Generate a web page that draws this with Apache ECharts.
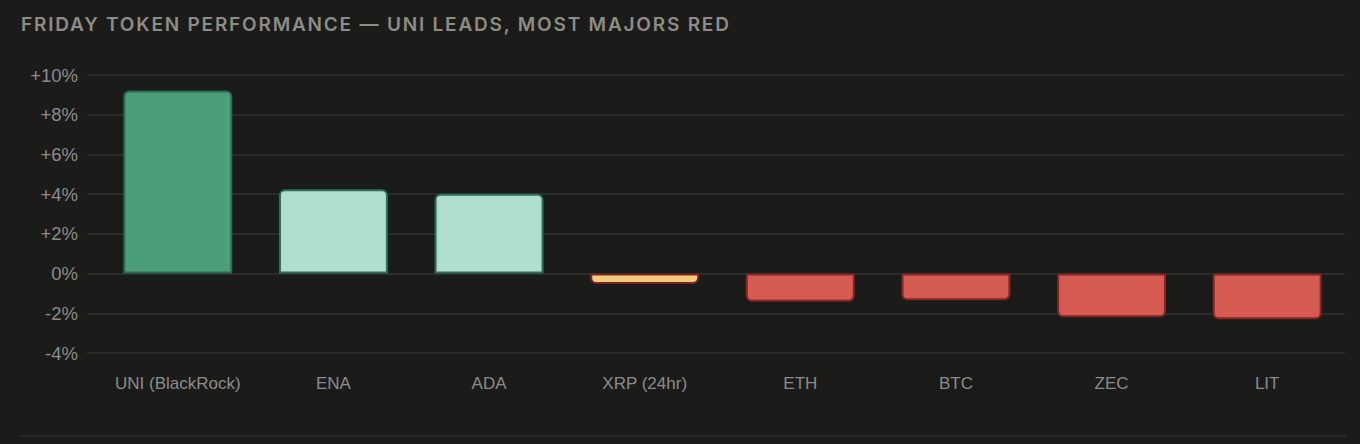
<!DOCTYPE html>
<html>
<head>
<meta charset="utf-8">
<script src="https://cdn.jsdelivr.net/npm/echarts@6/dist/echarts.min.js"></script>
<style>
  html, body { margin: 0; padding: 0; background: #1b1b1a; }
  #chart { width: 1360px; height: 444px; }
  /* the title is the only Inter text: give it the spaced caps look */
  #chart text[style*="Inter"] { letter-spacing: 1.8px; }
</style>
</head>
<body>
<div id="chart"></div>
<script>
const categories = ['UNI (BlackRock)', 'ENA', 'ADA', 'XRP (24hr)', 'ETH', 'BTC', 'ZEC', 'LIT'];
const changes = [9.22, 4.25, 4.02, -0.52, -1.42, -1.34, -2.2, -2.3];
const yTicks = [-4, -2, 0, 2, 4, 6, 8, 10];

const styleFor = v => {
    if (v >= 5) {
        return { color: '#4b9e7a', borderColor: '#2b6b50' };
    }
    if (v > 0) {
        return { color: '#afdfcc', borderColor: '#2f6f55' };
    }
    if (v > -1) {
        return { color: '#f2ca7c', borderColor: '#7a2424' };
    }
    return { color: '#d45a52', borderColor: '#852525' };
};

const chart = echarts.init(document.getElementById('chart'), null, { renderer: 'svg' });

chart.setOption({
    backgroundColor: '#1b1b1a',
    animation: false,
    title: {
        text: 'FRIDAY TOKEN PERFORMANCE — UNI LEADS, MOST MAJORS RED',
        left: 21,
        top: 15,
        padding: 0,
        textStyle: {
            color: '#8d8c87',
            fontSize: 19,
            fontWeight: 600,
            fontFamily: 'Inter'
        }
    },
    grid: {
        left: 100,
        right: 15,
        top: 75,
        bottom: 91
    },
    xAxis: {
        type: 'category',
        data: categories,
        axisLine: { show: false },
        axisTick: { show: false },
        axisLabel: {
            interval: 0,
            color: '#8c8c8a',
            fontSize: 17,
            margin: 22,
            fontFamily: 'Liberation Sans, Arial, sans-serif'
        }
    },
    yAxis: {
        type: 'value',
        min: yTicks[0],
        max: yTicks[yTicks.length - 1],
        interval: 2,
        axisLine: { show: false },
        axisTick: {
            show: true,
            length: 13,
            lineStyle: { color: '#2b2b2a', width: 2 }
        },
        splitLine: {
            lineStyle: { color: '#2b2b2a', width: 2 }
        },
        axisLabel: {
            color: '#8c8c8a',
            fontSize: 18.5,
            margin: 22,
            fontFamily: 'Liberation Sans, Arial, sans-serif',
            formatter: v => (v > 0 ? '+' + v : v) + '%'
        }
    },
    series: [{
        type: 'bar',
        barWidth: '70%',
        data: changes.map(v => {
            const s = styleFor(v);
            return {
                value: v,
                itemStyle: {
                    color: s.color,
                    borderColor: s.borderColor,
                    borderWidth: 2,
                    borderRadius: v > 0 ? [5, 5, 0, 0] : [0, 0, 5, 5]
                }
            };
        })
    }],
    graphic: [{
        type: 'line',
        shape: { x1: 21, y1: 436, x2: 1346, y2: 436 },
        style: { stroke: '#2e2e2d', lineWidth: 1.5 }
    }]
});
</script>
</body>
</html>
